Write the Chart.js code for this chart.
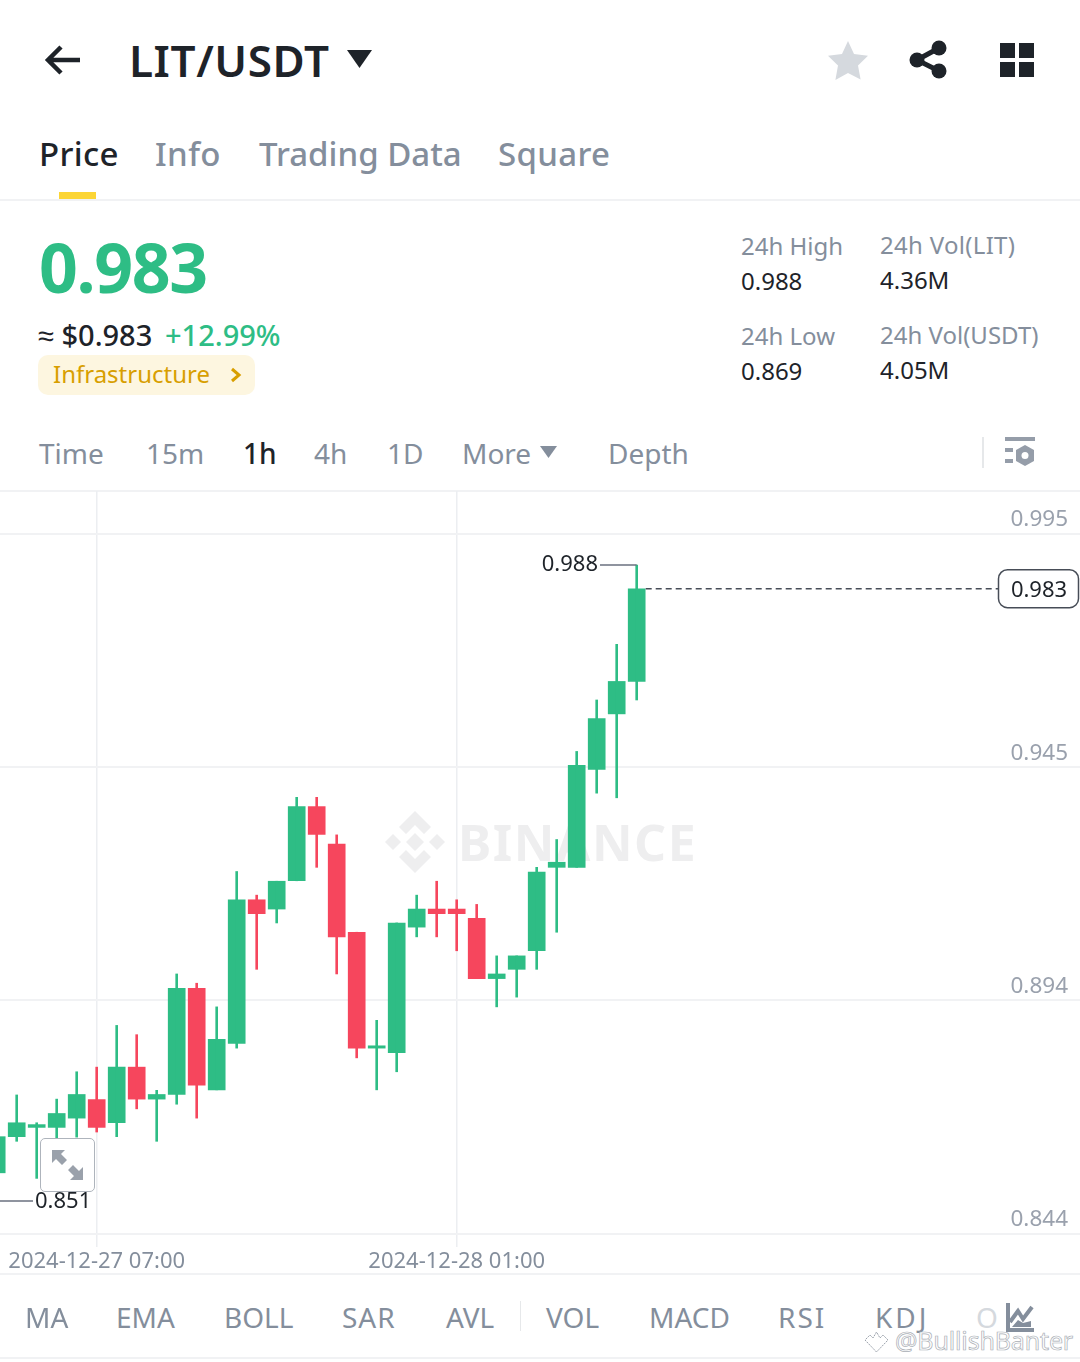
<!DOCTYPE html>
<html>
<head>
<meta charset="utf-8">
<title>LIT/USDT</title>
<script src="https://cdn.jsdelivr.net/npm/chart.js@4/dist/chart.umd.min.js"></script>
<style>
    html, body { margin: 0; padding: 0; background: #fff; }
    #page { position: relative; width: 1080px; height: 1362px; overflow: hidden; font-family: "Noto Sans", sans-serif; color: #1e2329; }
    .t { position: absolute; transform: translateY(-50%); white-space: nowrap; line-height: 1; }
    .gray { color: #848e9c; }
    .rule { position: absolute; left: 0; width: 1080px; height: 2px; background: #f1f2f4; }
    svg { position: absolute; }
    #wrap { position: absolute; left: 0; top: 491px; width: 1080px; height: 783px; }
    .tab { font-size: 33px; font-weight: 500; top: 153px; }
    .stat { font-size: 24px; }
    .interval { font-size: 28px; top: 453px; }
    .ind { font-size: 28px; top: 1317px; }
</style>
</head>
<body>
<div id="page">
    <!-- header -->
    <svg style="left:44px;top:44px" width="38" height="32" viewBox="0 0 38 32"><path d="M36 16H4M17 3L4 16l13 13" fill="none" stroke="#1e2329" stroke-width="4.5"/></svg>
    <span class="t" style="left:129px;top:60px;font-size:44px;font-weight:600;letter-spacing:.6px">LIT/USDT</span>
    <svg style="left:347px;top:50px" width="25" height="18"><path d="M0 0h25L12.500 18z" fill="#1e2329"/></svg>
    <svg style="left:828px;top:40px" width="40" height="40" viewBox="0 0 40 40"><path d="M20 1l6 13 14 1.700-10 9.800 2.600 14L20 33 7.400 40 10 25.500 0 15.700 14 14z" fill="#d5d9de"/></svg>
    <svg style="left:909px;top:40px" width="38" height="39" viewBox="0 0 38 39"><path d="M30 8L8 20l22 11" fill="none" stroke="#1e2329" stroke-width="5"/><circle cx="30" cy="8" r="7.500" fill="#1e2329"/><circle cx="8" cy="20" r="7.500" fill="#1e2329"/><circle cx="30" cy="31" r="7.500" fill="#1e2329"/></svg>
    <svg style="left:1000px;top:43px" width="34" height="34"><path d="M0 0h15v15H0zM19 0h15v15H19zM0 19h15v15H0zM19 19h15v15H19z" fill="#1e2329"/></svg>

    <!-- tabs -->
    <span class="t tab" style="left:39px;letter-spacing:.3px">Price</span>
    <span class="t tab gray" style="left:155px;letter-spacing:.4px">Info</span>
    <span class="t tab gray" style="left:259px">Trading Data</span>
    <span class="t tab gray" style="left:498px;letter-spacing:.3px">Square</span>
    <div style="position:absolute;left:59px;top:192px;width:37px;height:7px;background:#fcd535"></div>
    <div class="rule" style="top:199px"></div>

    <!-- price block -->
    <span class="t" style="left:39px;top:267px;font-size:68px;font-weight:700;color:#2ebd85;letter-spacing:-1.4px">0.983</span>
    <span class="t" style="left:38px;top:334px;font-size:29px;font-weight:500">≈ $0.983</span>
    <span class="t" style="left:165px;top:334px;font-size:29px;font-weight:500;color:#2ebd85">+12.99%</span>
    <div style="position:absolute;left:38px;top:355px;width:217px;height:40px;border-radius:10px;background:#fdf6e0"></div>
    <span class="t" style="left:53px;top:374px;font-size:24px;color:#d89f00">Infrastructure</span>
    <svg style="left:230px;top:367px" width="12" height="16"><path d="M2 2l7 6-7 6" fill="none" stroke="#d89f00" stroke-width="3"/></svg>

    <span class="t stat gray" style="left:741px;top:246px">24h High</span>
    <span class="t stat" style="left:741px;top:281px">0.988</span>
    <span class="t stat gray" style="left:880px;top:245px;letter-spacing:.3px">24h Vol(LIT)</span>
    <span class="t stat" style="left:880px;top:280px">4.36M</span>
    <span class="t stat gray" style="left:741px;top:336px">24h Low</span>
    <span class="t stat" style="left:741px;top:371px">0.869</span>
    <span class="t stat gray" style="left:880px;top:335px">24h Vol(USDT)</span>
    <span class="t stat" style="left:880px;top:370px">4.05M</span>

    <!-- interval row -->
    <span class="t interval gray" style="left:39px">Time</span>
    <span class="t interval gray" style="left:146px">15m</span>
    <span class="t interval" style="left:243px;font-weight:500">1h</span>
    <span class="t interval gray" style="left:314px">4h</span>
    <span class="t interval gray" style="left:387px">1D</span>
    <span class="t interval gray" style="left:462px">More</span>
    <svg style="left:540px;top:446px" width="17" height="12"><path d="M0 0h17L8.500 12z" fill="#848e9c"/></svg>
    <span class="t interval gray" style="left:608px">Depth</span>
    <div style="position:absolute;left:982px;top:437px;width:2px;height:31px;background:#e6e8ea"></div>
    <svg style="left:1005px;top:437px" width="30" height="30" viewBox="0 0 30 30"><path d="M0 0h30v4H0zM0 11h8v4H0zM0 22h8v4H0z" fill="#959da9"/><path d="M20 8l9 5v11l-9 5-9-5V13z" fill="#959da9"/><circle cx="20" cy="18.500" r="3.500" fill="#fff"/></svg>
    <div class="rule" style="top:490px"></div>

    <!-- watermark sits behind the transparent canvas -->
    <svg style="left:384px;top:811px" width="62" height="62" viewBox="0 0 62 62"><path d="M31 0l16 16-7 7-9-9-9 9-7-7zM1 31l8-8 8 8-8 8zM31 22l9 9-9 9-9-9zM45 31l8-8 8 8-8 8zM15 46l7-7 9 9 9-9 7 7-16 16z" fill="#eeeeef"/></svg>
    <span class="t" style="left:458px;top:842px;font-size:50px;font-weight:700;color:#eeeeef;letter-spacing:1.5px">BINANCE</span>

    <div id="wrap"><canvas id="klineChart" width="1080" height="783"></canvas></div>

    <!-- expand button over the candles -->
    <div style="position:absolute;left:40px;top:1138px;width:53px;height:52px;background:#fff;border:1.500px solid #aeb4bc;border-radius:5px"></div>
    <svg style="left:51px;top:1149px" width="33" height="32" viewBox="0 0 33 32"><path d="M1 1h13l-4 4 6 6-5 5-6-6-4 4zM32 31H19l4-4-6-6 5-5 6 6 4-4z" fill="#9aa1ab"/></svg>

    <div class="rule" style="top:1273px"></div>

    <!-- indicators -->
    <span class="t ind gray" style="left:25px">MA</span>
    <span class="t ind gray" style="left:116px">EMA</span>
    <span class="t ind gray" style="left:224px">BOLL</span>
    <span class="t ind gray" style="left:342px;letter-spacing:1px">SAR</span>
    <span class="t ind gray" style="left:446px">AVL</span>
    <div style="position:absolute;left:520px;top:1301px;width:1px;height:30px;background:#e6e8ea"></div>
    <span class="t ind gray" style="left:546px">VOL</span>
    <span class="t ind gray" style="left:649px">MACD</span>
    <span class="t ind gray" style="left:778px;letter-spacing:2px">RSI</span>
    <span class="t ind gray" style="left:875px;letter-spacing:3px">KDJ</span>
    <span class="t ind" style="left:976px;color:#d5d9de">O</span>
    <svg style="left:1006px;top:1303px" width="28" height="32" viewBox="0 0 28 32"><path d="M2 0v27h26" fill="none" stroke="#848e9c" stroke-width="4"/><path d="M4 19L12 8l5 8 9-12" fill="none" stroke="#848e9c" stroke-width="4"/><path d="M6 24l6-7 5 3 8-2v6z" fill="#848e9c"/></svg>
    <div class="rule" style="top:1357px"></div>

    <!-- repost mark -->
    <svg style="left:863px;top:1329px" width="27" height="24" viewBox="0 0 27 24"><path d="M13.500 23L2 11l5-5 3 3 3.500-6 3.500 6 3-3 5 5z" fill="#fff" stroke="#9aa1ab" stroke-width="1" stroke-dasharray="2 1"/></svg>
    <span class="t" style="left:895px;top:1340px;font-size:25px;letter-spacing:-.15px;color:#fff;-webkit-text-stroke:.7px #a9aeb5">@BullishBanter</span>
</div>

<script>
// one hourly candle per slot, first slot is 2024-12-27 02:00
const opens = [0.8572, 0.8650, 0.8670, 0.8670, 0.8690, 0.8730, 0.8680, 0.8800, 0.8731, 0.8741, 0.8970, 0.8751, 0.8851, 0.9161, 0.9141, 0.9202, 0.9362, 0.9281, 0.9091, 0.8841, 0.8831, 0.9102, 0.9141, 0.9141, 0.9121, 0.8991, 0.9011, 0.9051, 0.9231, 0.9231, 0.9442, 0.9562, 0.9632];
const closes = [0.8650, 0.8680, 0.8676, 0.8700, 0.8741, 0.8670, 0.8800, 0.8731, 0.8741, 0.8970, 0.8761, 0.8860, 0.9161, 0.9131, 0.9201, 0.9362, 0.9302, 0.9081, 0.8841, 0.8846, 0.9111, 0.9141, 0.9131, 0.9131, 0.8991, 0.9001, 0.9040, 0.9221, 0.9242, 0.9451, 0.9552, 0.9632, 0.9832];
const highs = [0.8665, 0.8740, 0.8680, 0.8731, 0.8790, 0.8800, 0.8890, 0.8870, 0.8750, 0.9001, 0.8981, 0.8930, 0.9222, 0.9171, 0.9201, 0.9382, 0.9382, 0.9301, 0.9091, 0.8901, 0.9111, 0.9171, 0.9201, 0.9161, 0.9151, 0.9040, 0.9040, 0.9231, 0.9291, 0.9481, 0.9592, 0.9712, 0.9883];
const lows = [0.8511, 0.8640, 0.8560, 0.8641, 0.8649, 0.8660, 0.8650, 0.8710, 0.8640, 0.8720, 0.8690, 0.8751, 0.8841, 0.9011, 0.9111, 0.9202, 0.9231, 0.9001, 0.8820, 0.8751, 0.8790, 0.9081, 0.9081, 0.9051, 0.8991, 0.8930, 0.8951, 0.9011, 0.9091, 0.9231, 0.9391, 0.9381, 0.9592];

const yTicks = [0.995, 0.9447, 0.8944, 0.844];
const xTickSlots = [5, 23];
const xTickLabels = ['2024-12-27 07:00', '2024-12-28 01:00'];

const UP = '#2ebd85';
const DOWN = '#f6465d';
const slots = opens.map((_, i) => i);
const candleColors = slots.map(i => closes[i] >= opens[i] ? UP : DOWN);

// the axes sit flush with the canvas edges
function dropScalePadding(scale) {
    scale.paddingTop = 0;
    scale.paddingBottom = 0;
    scale.paddingLeft = 0;
    scale.paddingRight = 0;
}

// price labels and dashed last price line
const priceMarks = {
    id: 'priceMarks',
    afterDatasetsDraw(chart) {
        const { ctx, scales: { x, y } } = chart;
        const last = slots.length - 1;
        const high = Math.max(...highs);
        const low = Math.min(...lows);
        const hx = x.getPixelForValue(highs.indexOf(high));
        const hy = y.getPixelForValue(high);
        const ly = y.getPixelForValue(low);
        const py = y.getPixelForValue(closes[last]);

        ctx.save();
        ctx.font = '22px "Noto Sans", sans-serif';
        ctx.textBaseline = 'middle';
        ctx.strokeStyle = '#6b7280';
        ctx.lineWidth = 1.5;

        ctx.beginPath();
        ctx.moveTo(600, hy);
        ctx.lineTo(hx, hy);
        ctx.moveTo(0, ly);
        ctx.lineTo(33, ly);
        ctx.stroke();

        ctx.fillStyle = '#1e2329';
        ctx.textAlign = 'right';
        ctx.fillText(high.toFixed(3), 598, hy);
        ctx.textAlign = 'left';
        ctx.fillText(low.toFixed(3), 35, ly + 1);

        ctx.setLineDash([6, 4]);
        ctx.strokeStyle = '#474d57';
        ctx.beginPath();
        ctx.moveTo(x.getPixelForValue(last) + 9, py);
        ctx.lineTo(998, py);
        ctx.stroke();
        ctx.setLineDash([]);

        ctx.beginPath();
        ctx.roundRect(998.5, py - 19, 80, 38, 9);
        ctx.fillStyle = '#fff';
        ctx.fill();
        ctx.strokeStyle = '#474d57';
        ctx.stroke();
        ctx.fillStyle = '#1e2329';
        ctx.textAlign = 'center';
        ctx.fillText(closes[last].toFixed(3), 1039, py + 2);
        ctx.restore();
    }
};

new Chart(document.getElementById('klineChart').getContext('2d'), {
    type: 'bar',
    data: {
        datasets: [
            {
                label: 'Wick',
                data: slots.map(i => ({ x: i, y: [lows[i], highs[i]] })),
                backgroundColor: candleColors,
                barThickness: 2,
                grouped: false
            },
            {
                label: 'Body',
                data: slots.map(i => ({ x: i, y: [opens[i], closes[i]] })),
                backgroundColor: candleColors,
                barThickness: 17,
                grouped: false
            }
        ]
    },
    options: {
        responsive: false,
        animation: false,
        layout: { padding: 0 },
        plugins: {
            legend: { display: false },
            tooltip: { enabled: false }
        },
        scales: {
            x: {
                type: 'linear',
                offset: false,
                min: 0.165,
                max: 54.165,
                afterBuildTicks: scale => {
                    scale.ticks = xTickSlots.map(value => ({ value }));
                },
                afterFit: scale => {
                    scale.height = 27;
                    dropScalePadding(scale);
                },
                grid: { color: '#eceef1', lineWidth: 1.5, drawTicks: false, offset: false },
                border: { display: false },
                ticks: {
                    autoSkip: false,
                    maxRotation: 0,
                    padding: 2,
                    color: '#848e9c',
                    font: { family: '"Noto Sans", sans-serif', size: 22 },
                    callback: value => xTickLabels[xTickSlots.indexOf(value)]
                }
            },
            y: {
                position: 'right',
                min: 0.84120,
                max: 1.00428,
                afterBuildTicks: scale => {
                    scale.ticks = yTicks.map(value => ({ value }));
                },
                afterFit: scale => {
                    scale.width = 0;
                    dropScalePadding(scale);
                },
                grid: { color: '#f1f2f4', lineWidth: 2, drawTicks: false },
                border: { display: false },
                ticks: {
                    mirror: true,
                    padding: -12,
                    labelOffset: -14,
                    color: '#9aa1ad',
                    font: { family: '"Noto Sans", sans-serif', size: 22.5 },
                    callback: value => value.toFixed(3)
                }
            }
        }
    },
    plugins: [priceMarks]
});
</script>
</body>
</html>
